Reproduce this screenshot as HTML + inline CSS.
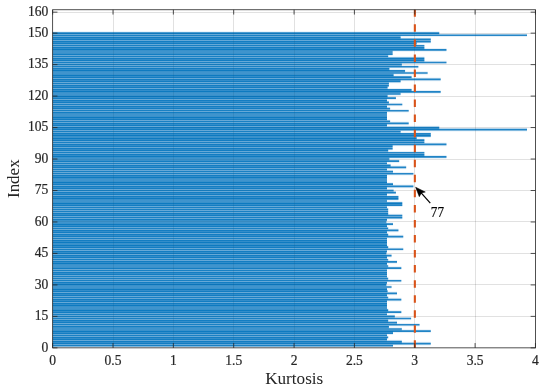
<!DOCTYPE html>
<html lang="en"><head><meta charset="utf-8"><title>Kurtosis</title>
<style>html,body{margin:0;padding:0;background:#fff}svg{display:block}text{font-family:"Liberation Serif",serif;fill:#262626;stroke:#262626;stroke-width:0.2px}</style></head><body>
<svg width="550" height="391" viewBox="0 0 550 391">
<rect width="550" height="391" fill="#fff"/>
<g stroke="rgba(0,0,0,0.085)" stroke-width="1" fill="none">
<line x1="113.5" y1="9.75" x2="113.5" y2="347.85"/>
<line x1="173.5" y1="9.75" x2="173.5" y2="347.85"/>
<line x1="233.5" y1="9.75" x2="233.5" y2="347.85"/>
<line x1="294.5" y1="9.75" x2="294.5" y2="347.85"/>
<line x1="354.5" y1="9.75" x2="354.5" y2="347.85"/>
<line x1="414.5" y1="9.75" x2="414.5" y2="347.85"/>
<line x1="475.5" y1="9.75" x2="475.5" y2="347.85"/>
<line x1="52.65" y1="316.5" x2="535.45" y2="316.5"/>
<line x1="52.65" y1="284.5" x2="535.45" y2="284.5"/>
<line x1="52.65" y1="253.5" x2="535.45" y2="253.5"/>
<line x1="52.65" y1="221.5" x2="535.45" y2="221.5"/>
<line x1="52.65" y1="190.5" x2="535.45" y2="190.5"/>
<line x1="52.65" y1="159.5" x2="535.45" y2="159.5"/>
<line x1="52.65" y1="127.5" x2="535.45" y2="127.5"/>
<line x1="52.65" y1="96.5" x2="535.45" y2="96.5"/>
<line x1="52.65" y1="64.5" x2="535.45" y2="64.5"/>
<line x1="52.65" y1="33.5" x2="535.45" y2="33.5"/>
<line x1="52.65" y1="12.5" x2="535.45" y2="12.5"/>
</g>
<defs><filter id="vb" x="-1%" y="-1%" width="102%" height="102%"><feConvolveMatrix order="1 3" kernelMatrix="0.1 0.8 0.1" edgeMode="none" preserveAlpha="false"/></filter></defs>
<path fill="#0072BD" filter="url(#vb)" d="M52.65 344.913h340.37v1.678h-340.37zM52.65 342.815h378.15v1.678h-378.15zM52.65 340.717h349.19v1.678h-349.19zM52.65 338.619h334.34v1.678h-334.34zM52.65 336.521h335.55v1.678h-335.55zM52.65 334.423h334.34v1.678h-334.34zM52.65 332.325h340.37v1.678h-340.37zM52.65 330.227h378.15v1.678h-378.15zM52.65 328.129h349.19v1.678h-349.19zM52.65 326.031h336.27v1.678h-336.27zM52.65 323.933h366.93v1.678h-366.93zM52.65 321.835h344.36v1.678h-344.36zM52.65 319.737h335.55v1.678h-335.55zM52.65 317.639h358.48v1.678h-358.48zM52.65 315.541h342.18v1.678h-342.18zM52.65 313.443h334.34v1.678h-334.34zM52.65 311.345h348.70v1.678h-348.70zM52.65 309.247h335.55v1.678h-335.55zM52.65 307.149h334.34v1.678h-334.34zM52.65 305.051h334.34v1.678h-334.34zM52.65 302.953h334.34v1.678h-334.34zM52.65 300.855h334.34v1.678h-334.34zM52.65 298.757h348.70v1.678h-348.70zM52.65 296.659h335.55v1.678h-335.55zM52.65 294.561h334.34v1.678h-334.34zM52.65 292.463h344.36v1.678h-344.36zM52.65 290.365h334.94v1.678h-334.94zM52.65 288.267h334.34v1.678h-334.34zM52.65 286.169h338.93v1.678h-338.93zM52.65 284.071h333.74v1.678h-333.74zM52.65 281.973h334.34v1.678h-334.34zM52.65 279.875h348.70v1.678h-348.70zM52.65 277.777h335.55v1.678h-335.55zM52.65 275.679h334.34v1.678h-334.34zM52.65 273.581h334.34v1.678h-334.34zM52.65 271.483h334.34v1.678h-334.34zM52.65 269.385h334.34v1.678h-334.34zM52.65 267.287h348.70v1.678h-348.70zM52.65 265.189h335.55v1.678h-335.55zM52.65 263.091h334.34v1.678h-334.34zM52.65 260.993h344.36v1.678h-344.36zM52.65 258.895h335.55v1.678h-335.55zM52.65 256.797h334.34v1.678h-334.34zM52.65 254.699h338.93v1.678h-338.93zM52.65 252.601h333.74v1.678h-333.74zM52.65 250.503h334.34v1.678h-334.34zM52.65 248.405h350.63v1.678h-350.63zM52.65 246.307h335.55v1.678h-335.55zM52.65 244.209h334.34v1.678h-334.34zM52.65 242.111h334.34v1.678h-334.34zM52.65 240.013h334.34v1.678h-334.34zM52.65 237.915h334.34v1.678h-334.34zM52.65 235.817h350.63v1.678h-350.63zM52.65 233.719h335.55v1.678h-335.55zM52.65 231.621h334.34v1.678h-334.34zM52.65 229.523h345.81v1.678h-345.81zM52.65 227.425h335.55v1.678h-335.55zM52.65 225.327h334.34v1.678h-334.34zM52.65 223.229h340.37v1.678h-340.37zM52.65 221.131h333.74v1.678h-333.74zM52.65 219.033h334.34v1.678h-334.34zM52.65 216.935h349.67v1.678h-349.67zM52.65 214.837h349.67v1.678h-349.67zM52.65 212.739h335.55v1.678h-335.55zM52.65 210.641h335.55v1.678h-335.55zM52.65 208.543h335.55v1.678h-335.55zM52.65 206.445h334.34v1.678h-334.34zM52.65 204.347h349.67v1.678h-349.67zM52.65 202.249h349.67v1.678h-349.67zM52.65 200.151h334.34v1.678h-334.34zM52.65 198.053h345.81v1.678h-345.81zM52.65 195.955h345.81v1.678h-345.81zM52.65 193.857h334.34v1.678h-334.34zM52.65 191.759h343.27v1.678h-343.27zM52.65 189.661h340.98v1.678h-340.98zM52.65 187.563h334.34v1.678h-334.34zM52.65 185.465h360.77v1.678h-360.77zM52.65 183.367h340.37v1.678h-340.37zM52.65 181.269h334.34v1.678h-334.34zM52.65 179.171h334.34v1.678h-334.34zM52.65 177.073h334.34v1.678h-334.34zM52.65 174.975h334.34v1.678h-334.34zM52.65 172.877h360.77v1.678h-360.77zM52.65 170.779h340.37v1.678h-340.37zM52.65 168.681h334.34v1.678h-334.34zM52.65 166.583h353.53v1.678h-353.53zM52.65 164.485h337.96v1.678h-337.96zM52.65 162.387h334.34v1.678h-334.34zM52.65 160.289h346.53v1.678h-346.53zM52.65 158.191h336.75v1.678h-336.75zM52.65 156.093h393.84v1.678h-393.84zM52.65 153.995h371.76v1.678h-371.76zM52.65 151.897h371.76v1.678h-371.76zM52.65 149.799h335.55v1.678h-335.55zM52.65 147.701h340.01v1.678h-340.01zM52.65 145.603h340.01v1.678h-340.01zM52.65 143.505h393.84v1.678h-393.84zM52.65 141.407h371.76v1.678h-371.76zM52.65 139.309h371.76v1.678h-371.76zM52.65 137.211h364.03v1.678h-364.03zM52.65 135.113h378.15v1.678h-378.15zM52.65 133.015h378.15v1.678h-378.15zM52.65 130.917h347.98v1.678h-347.98zM52.65 128.819h474.35v1.678h-474.35zM52.65 126.721h386.60v1.678h-386.60zM52.65 124.623h334.34v1.678h-334.34zM52.65 122.525h356.07v1.678h-356.07zM52.65 120.427h337.48v1.678h-337.48zM52.65 118.329h334.34v1.678h-334.34zM52.65 116.231h334.34v1.678h-334.34zM52.65 114.133h334.34v1.678h-334.34zM52.65 112.035h334.34v1.678h-334.34zM52.65 109.937h356.07v1.678h-356.07zM52.65 107.839h337.48v1.678h-337.48zM52.65 105.741h334.34v1.678h-334.34zM52.65 103.643h349.67v1.678h-349.67zM52.65 101.545h336.27v1.678h-336.27zM52.65 99.447h334.34v1.678h-334.34zM52.65 97.349h343.27v1.678h-343.27zM52.65 95.251h334.94v1.678h-334.94zM52.65 93.153h347.98v1.678h-347.98zM52.65 91.055h388.05v1.678h-388.05zM52.65 88.957h358.96v1.678h-358.96zM52.65 86.859h334.94v1.678h-334.94zM52.65 84.761h336.27v1.678h-336.27zM52.65 82.663h336.27v1.678h-336.27zM52.65 80.565h347.98v1.678h-347.98zM52.65 78.467h388.05v1.678h-388.05zM52.65 76.369h358.96v1.678h-358.96zM52.65 74.271h340.98v1.678h-340.98zM52.65 72.173h375.01v1.678h-375.01zM52.65 70.075h352.44v1.678h-352.44zM52.65 67.977h336.75v1.678h-336.75zM52.65 65.879h365.72v1.678h-365.72zM52.65 63.781h349.19v1.678h-349.19zM52.65 61.683h393.84v1.678h-393.84zM52.65 59.585h371.76v1.678h-371.76zM52.65 57.487h371.76v1.678h-371.76zM52.65 55.389h335.55v1.678h-335.55zM52.65 53.291h340.01v1.678h-340.01zM52.65 51.193h340.01v1.678h-340.01zM52.65 49.095h393.84v1.678h-393.84zM52.65 46.997h371.76v1.678h-371.76zM52.65 44.899h371.76v1.678h-371.76zM52.65 42.801h364.03v1.678h-364.03zM52.65 40.703h378.15v1.678h-378.15zM52.65 38.605h378.15v1.678h-378.15zM52.65 36.507h347.98v1.678h-347.98zM52.65 34.409h474.35v1.678h-474.35zM52.65 32.311h386.60v1.678h-386.60z"/>
<g stroke="rgba(0,0,0,0.03)" stroke-width="1" fill="none">
<line x1="113.5" y1="9.75" x2="113.5" y2="347.85"/>
<line x1="173.5" y1="9.75" x2="173.5" y2="347.85"/>
<line x1="233.5" y1="9.75" x2="233.5" y2="347.85"/>
<line x1="294.5" y1="9.75" x2="294.5" y2="347.85"/>
<line x1="354.5" y1="9.75" x2="354.5" y2="347.85"/>
<line x1="414.5" y1="9.75" x2="414.5" y2="347.85"/>
<line x1="475.5" y1="9.75" x2="475.5" y2="347.85"/>
<line x1="52.65" y1="316.5" x2="535.45" y2="316.5"/>
<line x1="52.65" y1="284.5" x2="535.45" y2="284.5"/>
<line x1="52.65" y1="253.5" x2="535.45" y2="253.5"/>
<line x1="52.65" y1="221.5" x2="535.45" y2="221.5"/>
<line x1="52.65" y1="190.5" x2="535.45" y2="190.5"/>
<line x1="52.65" y1="159.5" x2="535.45" y2="159.5"/>
<line x1="52.65" y1="127.5" x2="535.45" y2="127.5"/>
<line x1="52.65" y1="96.5" x2="535.45" y2="96.5"/>
<line x1="52.65" y1="64.5" x2="535.45" y2="64.5"/>
<line x1="52.65" y1="33.5" x2="535.45" y2="33.5"/>
<line x1="52.65" y1="12.5" x2="535.45" y2="12.5"/>
</g>
<line x1="414.85" y1="347.85" x2="414.85" y2="9.75" stroke="#D95319" stroke-width="2.1" stroke-dasharray="7.5 7.55"/>
<g stroke="#262626" stroke-width="0.8" fill="none">
<rect x="52.65" y="9.75" width="482.80" height="338.10"/>
<line x1="52.65" y1="347.85" x2="52.65" y2="343.05"/>
<line x1="52.65" y1="9.75" x2="52.65" y2="14.55"/>
<line x1="113.00" y1="347.85" x2="113.00" y2="343.05"/>
<line x1="113.00" y1="9.75" x2="113.00" y2="14.55"/>
<line x1="173.35" y1="347.85" x2="173.35" y2="343.05"/>
<line x1="173.35" y1="9.75" x2="173.35" y2="14.55"/>
<line x1="233.70" y1="347.85" x2="233.70" y2="343.05"/>
<line x1="233.70" y1="9.75" x2="233.70" y2="14.55"/>
<line x1="294.05" y1="347.85" x2="294.05" y2="343.05"/>
<line x1="294.05" y1="9.75" x2="294.05" y2="14.55"/>
<line x1="354.40" y1="347.85" x2="354.40" y2="343.05"/>
<line x1="354.40" y1="9.75" x2="354.40" y2="14.55"/>
<line x1="414.75" y1="347.85" x2="414.75" y2="343.05"/>
<line x1="414.75" y1="9.75" x2="414.75" y2="14.55"/>
<line x1="475.10" y1="347.85" x2="475.10" y2="343.05"/>
<line x1="475.10" y1="9.75" x2="475.10" y2="14.55"/>
<line x1="535.45" y1="347.85" x2="535.45" y2="343.05"/>
<line x1="535.45" y1="9.75" x2="535.45" y2="14.55"/>
<line x1="52.65" y1="347.85" x2="57.449999999999996" y2="347.85"/>
<line x1="535.45" y1="347.85" x2="530.6500000000001" y2="347.85"/>
<line x1="52.65" y1="316.38" x2="57.449999999999996" y2="316.38"/>
<line x1="535.45" y1="316.38" x2="530.6500000000001" y2="316.38"/>
<line x1="52.65" y1="284.91" x2="57.449999999999996" y2="284.91"/>
<line x1="535.45" y1="284.91" x2="530.6500000000001" y2="284.91"/>
<line x1="52.65" y1="253.44" x2="57.449999999999996" y2="253.44"/>
<line x1="535.45" y1="253.44" x2="530.6500000000001" y2="253.44"/>
<line x1="52.65" y1="221.97" x2="57.449999999999996" y2="221.97"/>
<line x1="535.45" y1="221.97" x2="530.6500000000001" y2="221.97"/>
<line x1="52.65" y1="190.50" x2="57.449999999999996" y2="190.50"/>
<line x1="535.45" y1="190.50" x2="530.6500000000001" y2="190.50"/>
<line x1="52.65" y1="159.03" x2="57.449999999999996" y2="159.03"/>
<line x1="535.45" y1="159.03" x2="530.6500000000001" y2="159.03"/>
<line x1="52.65" y1="127.56" x2="57.449999999999996" y2="127.56"/>
<line x1="535.45" y1="127.56" x2="530.6500000000001" y2="127.56"/>
<line x1="52.65" y1="96.09" x2="57.449999999999996" y2="96.09"/>
<line x1="535.45" y1="96.09" x2="530.6500000000001" y2="96.09"/>
<line x1="52.65" y1="64.62" x2="57.449999999999996" y2="64.62"/>
<line x1="535.45" y1="64.62" x2="530.6500000000001" y2="64.62"/>
<line x1="52.65" y1="33.15" x2="57.449999999999996" y2="33.15"/>
<line x1="535.45" y1="33.15" x2="530.6500000000001" y2="33.15"/>
<line x1="52.65" y1="12.17" x2="57.449999999999996" y2="12.17"/>
<line x1="535.45" y1="12.17" x2="530.6500000000001" y2="12.17"/>
</g>
<text transform="translate(52.65 364.90) scale(1.02 1.12)" font-size="13.3" text-anchor="middle">0</text>
<text transform="translate(113.00 364.90) scale(1.02 1.12)" font-size="13.3" text-anchor="middle">0.5</text>
<text transform="translate(173.35 364.90) scale(1.02 1.12)" font-size="13.3" text-anchor="middle">1</text>
<text transform="translate(233.70 364.90) scale(1.02 1.12)" font-size="13.3" text-anchor="middle">1.5</text>
<text transform="translate(294.05 364.90) scale(1.02 1.12)" font-size="13.3" text-anchor="middle">2</text>
<text transform="translate(354.40 364.90) scale(1.02 1.12)" font-size="13.3" text-anchor="middle">2.5</text>
<text transform="translate(414.75 364.90) scale(1.02 1.12)" font-size="13.3" text-anchor="middle">3</text>
<text transform="translate(475.10 364.90) scale(1.02 1.12)" font-size="13.3" text-anchor="middle">3.5</text>
<text transform="translate(535.45 364.90) scale(1.02 1.12)" font-size="13.3" text-anchor="middle">4</text>
<text transform="translate(48.30 351.55) scale(1.02 1.12)" font-size="13.3" text-anchor="end">0</text>
<text transform="translate(48.30 320.08) scale(1.02 1.12)" font-size="13.3" text-anchor="end">15</text>
<text transform="translate(48.30 288.61) scale(1.02 1.12)" font-size="13.3" text-anchor="end">30</text>
<text transform="translate(48.30 257.14) scale(1.02 1.12)" font-size="13.3" text-anchor="end">45</text>
<text transform="translate(48.30 225.67) scale(1.02 1.12)" font-size="13.3" text-anchor="end">60</text>
<text transform="translate(48.30 194.20) scale(1.02 1.12)" font-size="13.3" text-anchor="end">75</text>
<text transform="translate(48.30 162.73) scale(1.02 1.12)" font-size="13.3" text-anchor="end">90</text>
<text transform="translate(48.30 131.26) scale(1.02 1.12)" font-size="13.3" text-anchor="end">105</text>
<text transform="translate(48.30 99.79) scale(1.02 1.12)" font-size="13.3" text-anchor="end">120</text>
<text transform="translate(48.30 68.32) scale(1.02 1.12)" font-size="13.3" text-anchor="end">135</text>
<text transform="translate(48.30 36.85) scale(1.02 1.12)" font-size="13.3" text-anchor="end">150</text>
<text transform="translate(48.30 15.87) scale(1.02 1.12)" font-size="13.3" text-anchor="end">160</text>
<text stroke-width="0" style="stroke:none" transform="translate(294.20 383.70) scale(1.04 1.0)" font-size="16.5" text-anchor="middle">Kurtosis</text>
<text style="stroke:none" transform="translate(18.80 178.70) rotate(-90) scale(1.03 1.0)" font-size="16.5" text-anchor="middle">Index</text>
<line x1="430.3" y1="203.1" x2="420.5" y2="192.2" stroke="#000" stroke-width="1.25"/>
<path d="M415.6 187.2 L425.3 192.0 L421.4 192.9 L419.3 196.7 Z" fill="#000" stroke="#000" stroke-width="0.5" stroke-linejoin="miter"/>
<text transform="translate(437.50 216.60) scale(1.0 1.12)" font-size="13.3" text-anchor="middle" style="fill:#000">77</text>
</svg></body></html>
